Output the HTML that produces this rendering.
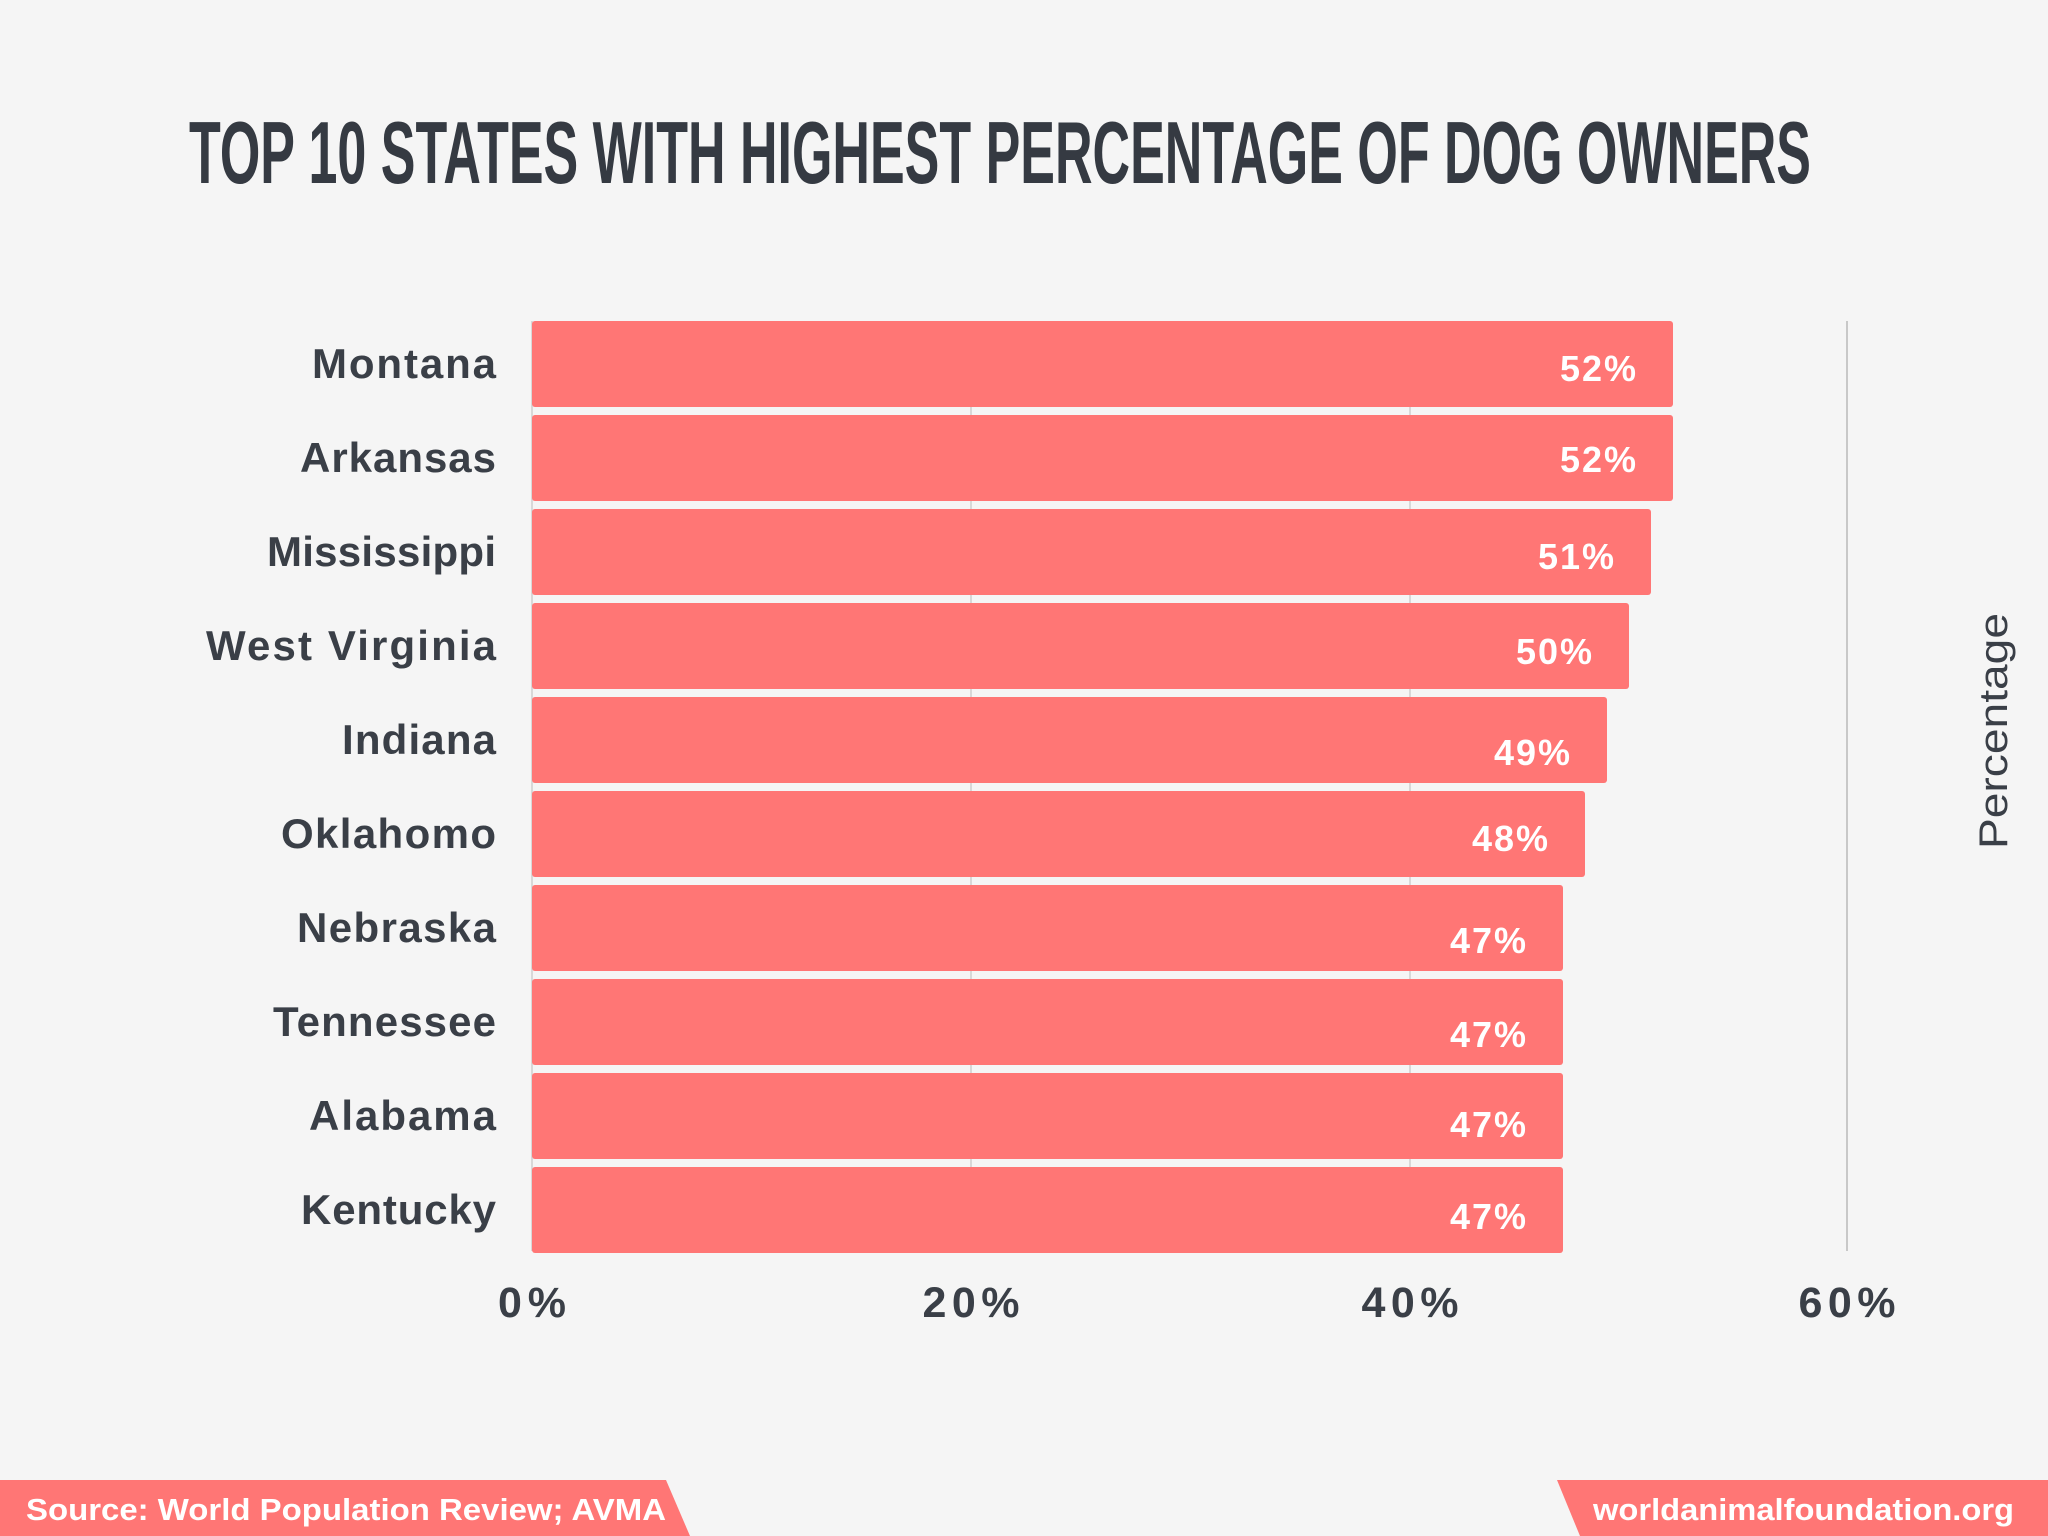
<!DOCTYPE html>
<html><head><meta charset="utf-8"><style>
html,body{margin:0;padding:0;background:#f5f5f5}
svg{display:block}
text{font-family:"Liberation Sans",sans-serif}
</style></head><body>
<svg width="2048" height="1536" viewBox="0 0 2048 1536" xmlns="http://www.w3.org/2000/svg">
<rect width="2048" height="1536" fill="#f5f5f5"/>
<text x="189" y="183" font-family="Liberation Sans Narrow, Liberation Sans, sans-serif" font-weight="bold" font-size="88" fill="#353a42" textLength="1622" lengthAdjust="spacingAndGlyphs">TOP 10 STATES WITH HIGHEST PERCENTAGE OF DOG OWNERS</text>
<g stroke="#d8d8d8" stroke-width="2">
<line x1="971" y1="321" x2="971" y2="1251"/>
<line x1="1410" y1="321" x2="1410" y2="1251"/>
</g>
<line x1="1847" y1="321" x2="1847" y2="1251" stroke="#c8c8c8" stroke-width="2"/>
<line x1="532" y1="321" x2="532" y2="1251" stroke="#d8d8d8" stroke-width="2"/>
<g fill="#ff7675">
<rect x="532" y="321" width="1141" height="86" rx="3"/>
<rect x="532" y="415" width="1141" height="86" rx="3"/>
<rect x="532" y="509" width="1119" height="86" rx="3"/>
<rect x="532" y="603" width="1097" height="86" rx="3"/>
<rect x="532" y="697" width="1075" height="86" rx="3"/>
<rect x="532" y="791" width="1053" height="86" rx="3"/>
<rect x="532" y="885" width="1031" height="86" rx="3"/>
<rect x="532" y="979" width="1031" height="86" rx="3"/>
<rect x="532" y="1073" width="1031" height="86" rx="3"/>
<rect x="532" y="1167" width="1031" height="86" rx="3"/>
</g>
<g fill="#fff" font-weight="bold" font-size="36" text-anchor="end" lengthAdjust="spacingAndGlyphs">
<text x="1636" y="381" textLength="76">52%</text>
<text x="1636" y="472" textLength="76">52%</text>
<text x="1614" y="569" textLength="76">51%</text>
<text x="1592" y="664" textLength="76">50%</text>
<text x="1570" y="765" textLength="76">49%</text>
<text x="1548" y="851" textLength="76">48%</text>
<text x="1526" y="953" textLength="76">47%</text>
<text x="1526" y="1047" textLength="76">47%</text>
<text x="1526" y="1137" textLength="76">47%</text>
<text x="1526" y="1229" textLength="76">47%</text>
</g>
<g fill="#3a3f47" font-weight="bold" font-size="42" text-anchor="end" lengthAdjust="spacingAndGlyphs">
<text x="496" y="378" textLength="184">Montana</text>
<text x="496" y="472" textLength="196">Arkansas</text>
<text x="496" y="566" textLength="229">Mississippi</text>
<text x="496" y="660" textLength="290">West Virginia</text>
<text x="496" y="754" textLength="154">Indiana</text>
<text x="496" y="848" textLength="215">Oklahomo</text>
<text x="496" y="942" textLength="199">Nebraska</text>
<text x="496" y="1036" textLength="223">Tennessee</text>
<text x="496" y="1130" textLength="187">Alabama</text>
<text x="496" y="1224" textLength="195">Kentucky</text>
</g>
<g fill="#3a3f47" font-weight="bold" font-size="43" text-anchor="middle" lengthAdjust="spacingAndGlyphs">
<text x="532" y="1317" textLength="68">0%</text>
<text x="971" y="1317" textLength="97">20%</text>
<text x="1410" y="1317" textLength="97">40%</text>
<text x="1847" y="1317" textLength="97">60%</text>
</g>
<text transform="translate(2007,731) rotate(-90)" fill="#3a3f47" font-size="40" text-anchor="middle" textLength="236" lengthAdjust="spacingAndGlyphs">Percentage</text>
<polygon points="0,1480 666,1480 690,1536 0,1536" fill="#ff7675"/>
<text x="26" y="1520" fill="#fff" font-weight="bold" font-size="31" textLength="640" lengthAdjust="spacingAndGlyphs">Source: World Population Review; AVMA</text>
<polygon points="1557,1480 2048,1480 2048,1536 1580,1536" fill="#ff7675"/>
<text x="2014" y="1520" fill="#fff" font-weight="bold" font-size="31" text-anchor="end" textLength="421" lengthAdjust="spacingAndGlyphs">worldanimalfoundation.org</text>
</svg>
</body></html>
